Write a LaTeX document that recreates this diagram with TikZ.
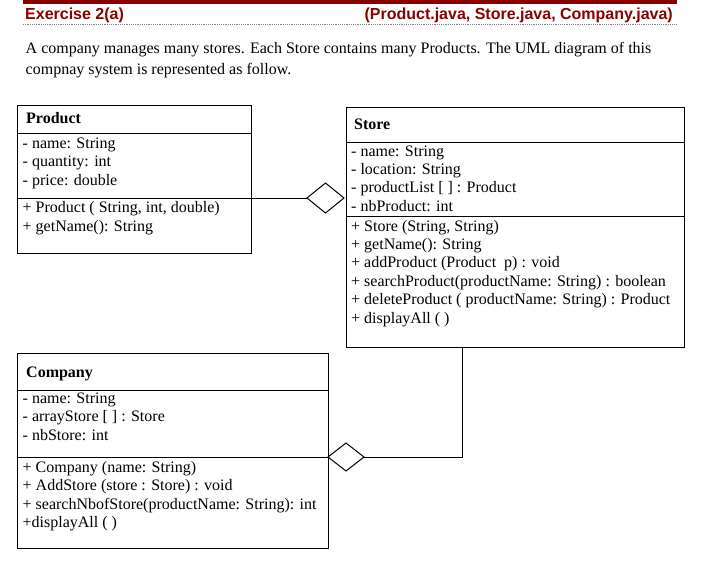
\documentclass[tikz,border=0pt]{standalone}
\usepackage{fontspec}
\setmainfont{Liberation Serif}
\newfontfamily\headfont{Liberation Sans}
\usepackage{tikz}
\usetikzlibrary{shapes.geometric}

\definecolor{exred}{RGB}{136,0,0}

\tikzset{
   compart/.style={draw, rectangle, line width=1pt, inner sep=0pt, outer sep=0pt, anchor=north west},
   titletext/.style={anchor=base west, inner sep=0pt, font=\fontsize{16}{19}\selectfont\bfseries},
   rowtext/.style={anchor=base west, inner sep=0pt, font=\fontsize{16}{19}\selectfont},
   headtext/.style={inner sep=0pt, text=exred, font=\headfont\fontsize{16}{19}\selectfont\bfseries},
   aggr/.style={diamond, draw, fill=white, line width=1pt, inner sep=0pt, outer sep=0pt}
}

\begin{document}
\begin{tikzpicture}[x=1pt,y=-1pt]
   \useasboundingbox (0,0) rectangle (712,560);

   % header
   \fill[exred] (23,0) rectangle (677,3.5);
   \draw[gray, densely dotted, line width=1.2pt] (23,24.5) -- (677,24.5);
   \node[headtext, anchor=base west] (extitle) at (25,19) {Exercise 2(a)};
   \node[headtext, anchor=base east] (exfiles) at (673,19) {(Product.java, Store.java, Company.java)};

   \node[rowtext] (intro1) at (25.5,53.5) {A company manages many stores. Each Store contains many Products. The UML diagram of this};
   \node[rowtext] (intro2) at (25.5,74) {compnay system is represented as follow.};

   % Product
   \node[compart, minimum width=234pt, minimum height=28pt] (prodtitle) at (17,105) {};
   \node[compart, minimum width=234pt, minimum height=65pt] (prodattr) at (17,133) {};
   \node[compart, minimum width=234pt, minimum height=55pt] (prodmeth) at (17,198) {};
   \node[titletext] (prodname) at (26,123.5) {Product};
   \foreach \t [count=\i] in {{- name: String},{- quantity: int},{- price: double}}
      \node[rowtext] (pa\i) at (22.5,148.3+18.4*\i-18.4) {\t};
   \foreach \t [count=\i] in {{+ Product ( String, int, double)},{+ getName(): String}}
      \node[rowtext] (pm\i) at (22.5,212.8+18.4*\i-18.4) {\t};

   % Store
   \node[compart, minimum width=338pt, minimum height=35pt] (storetitle) at (346,107) {};
   \node[compart, minimum width=338pt, minimum height=74pt] (storeattr) at (346,142) {};
   \node[compart, minimum width=338pt, minimum height=131pt] (storemeth) at (346,216) {};
   \node[titletext] (storename) at (354,129) {Store};
   \foreach \t [count=\i] in {{- name: String},{- location: String},{- productList [ ] : Product},{- nbProduct: int}}
      \node[rowtext] (sa\i) at (351,156+18.4*\i-18.4) {\t};
   \foreach \t [count=\i] in {{+ Store (String, String)},{+ getName(): String},{+ addProduct (Product~ p) : void},{+ searchProduct(productName: String) : boolean},{+ deleteProduct ( productName: String) : Product},{+ displayAll ( )}}
      \node[rowtext] (sm\i) at (351,231+18.4*\i-18.4) {\t};

   % Company
   \node[compart, minimum width=311pt, minimum height=37pt] (comptitle) at (17,353) {};
   \node[compart, minimum width=311pt, minimum height=67pt] (compattr) at (17,390) {};
   \node[compart, minimum width=311pt, minimum height=91pt] (compmeth) at (17,457) {};
   \node[titletext] (compname) at (26,377.5) {Company};
   \foreach \t [count=\i] in {{- name: String},{- arrayStore [ ] : Store},{- nbStore: int}}
      \node[rowtext] (ca\i) at (22.5,403.5+18.4*\i-18.4) {\t};
   \foreach \t [count=\i] in {{+ Company (name: String)},{+ AddStore (store : Store) : void},{+ searchNbofStore(productName: String): int},{+displayAll ( )}}
      \node[rowtext] (cm\i) at (22.5,472.5+18.4*\i-18.4) {\t};

   % aggregations
   \node[aggr, minimum width=37pt, minimum height=30pt] (pdiam) at (325.5,198) {};
   \draw[line width=1pt] (prodattr.south east) -- (pdiam.west);

   \node[aggr, minimum width=36pt, minimum height=28pt] (cdiam) at (346,457) {};
   \coordinate (storedrop) at (462.5,347);
   \draw[line width=1pt] (cdiam.east) -| (storedrop);
\end{tikzpicture}
\end{document}
